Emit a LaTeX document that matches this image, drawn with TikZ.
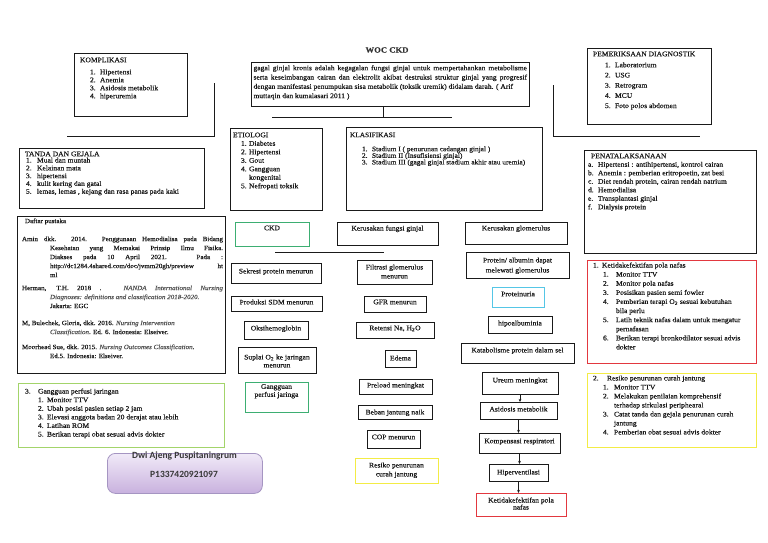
\documentclass[tikz,border=0pt]{standalone}
\usepackage{fontspec}
\setmainfont{Liberation Serif}[FakeStretch=1.08,FakeBold=0.6]
\newfontfamily\namefont{Carlito}
\usetikzlibrary{arrows.meta}
\definecolor{cgreen}{HTML}{3DAE72}
\definecolor{lgreen}{HTML}{A3D46A}
\definecolor{cyellow}{HTML}{F3EC45}
\definecolor{cred}{HTML}{E2383F}
\definecolor{ccyan}{HTML}{55C6E6}
\definecolor{pbord}{HTML}{A595C2}
\definecolor{ptop}{HTML}{F1EAF8}
\definecolor{pbot}{HTML}{C8B1DE}
\definecolor{itgray}{HTML}{555555}
\definecolor{txt}{HTML}{1A1A1A}
% centred text box content
\newcommand\ctxt[4]{\begin{minipage}[c][#2pt][t]{#1pt}\centering\fontsize{7}{8}\selectfont\vspace*{#3pt}#4\end{minipage}}
% list box content
\newcommand\ltxt[5]{\begin{minipage}[c][#2pt][t]{#1pt}\vspace*{#3pt}\hspace*{#4pt}\begin{minipage}[t]{\dimexpr#1pt-#4pt-2pt\relax}\raggedright\hyphenpenalty=10000\exhyphenpenalty=10000\fontsize{7}{8}\selectfont #5\end{minipage}\end{minipage}}
\newcommand\litem[3]{\par\noindent\hangindent=#2pt\hangafter=1\hbox to #2pt{\hskip#1pt#3\hfil}\ignorespaces}
\newcommand\itg[1]{\textcolor{itgray}{\textit{#1}}}
\tikzset{
  bx/.style={draw=txt, line width=0.9pt, anchor=north west, inner sep=0pt, outer sep=0pt, text=txt},
  ln/.style={draw=txt, line width=0.9pt},
  arr/.style={draw=txt, line width=0.8pt, -{Stealth[length=3.2pt,width=2.8pt]}},
  namebox/.style={draw=pbord, line width=0.8pt, rounded corners=8pt, top color=ptop, bottom color=pbot, anchor=north west, inner sep=0pt, minimum width=155pt, minimum height=40pt},
  nametext/.style={font=\namefont\bfseries\fontsize{9.5}{11}\selectfont, text=black!78, inner sep=0pt}
}
\newcommand\mb[8][txt]{\node[bx,draw=#1,minimum width=#5pt,minimum height=#6pt] (#2) at (#3,#4) {\ctxt{#5}{#6}{#7}{#8}};}
\begin{document}
\begin{tikzpicture}[x=1pt,y=-1pt]
\fill[white] (0,0) rectangle (768,543);
\useasboundingbox (0,0) rectangle (768,543);

% ---------- title ----------
\node[inner sep=0pt, text=black!80, font=\bfseries\fontsize{8}{9}\selectfont] (woctitle) at (387,50) {WOC CKD};

% ---------- definition ----------
\node[bx, minimum width=278pt, minimum height=44pt] (woc) at (251,62) {\ltxt{278}{44}{3.3}{2.5}{\fontsize{7}{9.3}\selectfont\rightskip=0pt\relax
gagal ginjal kronis adalah kegagalan fungsi ginjal untuk mempertahankan metabolisme serta keseimbangan cairan dan elektrolit akibat destruksi struktur ginjal yang progresif\linebreak dengan manifestasi penumpukan sisa metabolik (toksik uremik) didalam darah. ( Arif\newline muttaqin dan kumalasari 2011 )}};

% ---------- komplikasi ----------
\node[bx, minimum width=113pt, minimum height=63pt] (komp) at (74,53) {\ltxt{113}{63}{4.6}{6}{
KOMPLIKASI\par\vspace{4pt}
\litem{10}{20}{1.}Hipertensi
\litem{10}{20}{2.}Anemia
\litem{10}{20}{3.}Asidosis metabolik
\litem{10}{20}{4.}hiperuremia}};

% ---------- tanda dan gejala ----------
\node[bx, minimum width=185pt, minimum height=60pt] (tanda) at (19,148) {\ltxt{185}{60}{3.6}{6}{\fontsize{7}{7.8}\selectfont
TANDA DAN GEJALA\par\vspace{-1.5pt}
\litem{1}{12}{1.}Mual dan muntah
\litem{1}{12}{2.}Kelainan mata
\litem{1}{12}{3.}hipertensi
\litem{1}{12}{4.}kulit kering dan gatal
\litem{1}{12}{5.}lemas, lemas , kejang dan rasa panas pada kaki}};

% ---------- daftar pustaka ----------
\node[bx, minimum width=208pt, minimum height=157pt] (pustaka) at (17,216) {\ltxt{208}{157}{2.5}{5}{\fontsize{6.5}{9}\selectfont\rightskip=0pt\relax
\hspace*{3pt}Daftar pustaka\par\vspace{9pt}
\hangindent=28pt\hangafter=1 Amin dkk. 2014. Penggunaan Hemodialisa pada Bidang\linebreak Kesehatan yang Memakai Prinsip Ilmu Fisika.\linebreak Diakses pada 10 April 2021. Pada :\linebreak http://dc1284.4shared.com/doc/jvmm20gh/preview\hfill ht\newline ml\par\vspace{4pt}
\hangindent=28pt\hangafter=1 Herman, T.H. 2018 . \itg{NANDA International Nursing}\linebreak \itg{Diagnoses: definitions and classification 2018-2020.}\newline Jakarta: EGC\par\vspace{8pt}
\hangindent=28pt\hangafter=1 M, Bulechek, Gloria, dkk. 2016. \itg{Nursing Intervention}\newline \itg{Classification}. Ed. 6. Indonesia: Elseiver.\par\vspace{6pt}
\hangindent=28pt\hangafter=1 Moorhead Sue, dkk. 2015. \itg{Nursing Outcomes Classification}.\newline Ed.5. Indonesia: Elseiver.}};

% ---------- gangguan perfusi (list) ----------
\node[bx, draw=lgreen, minimum width=206pt, minimum height=64pt] (grlist) at (18,383) {\ltxt{206}{64}{5.6}{7}{\fontsize{7}{8.6}\selectfont
\litem{0}{13}{3.}Gangguan perfusi jaringan
\litem{13}{22}{1.}Monitor TTV
\litem{13}{22}{2.}Ubah posisi pasien setiap 2 jam
\litem{13}{22}{3.}Elevasi anggota badan 20 derajat atau lebih
\litem{13}{22}{4.}Latihan ROM
\litem{13}{22}{5.}Berikan terapi obat sesuai advis dokter}};

% ---------- name ----------
\node[namebox] (namebox) at (107,453) {};
\node[nametext] (name1) at (184.5,456) {Dwi Ajeng Puspitaningrum};
\node[nametext] (name2) at (184,474) {P1337420921097};

% ---------- etiologi ----------
\node[bx, minimum width=92pt, minimum height=82pt] (etio) at (230,128) {\ltxt{92}{82}{4.6}{3}{\fontsize{7}{8.5}\selectfont
ETIOLOGI
\litem{8}{16}{1.}Diabetes
\litem{8}{16}{2.}Hipertensi
\litem{8}{16}{3.}Gout
\litem{8}{16}{4.}Gangguan\newline kongenital
\litem{8}{16}{5.}Nefropati toksik}};

% ---------- klasifikasi ----------
\node[bx, minimum width=196pt, minimum height=83pt] (klas) at (346,127) {\ltxt{196}{83}{5.6}{4}{\fontsize{6.8}{6.6}\selectfont
KLASIFIKASI\par\vspace{7.5pt}
\litem{12}{22}{1.}Stadium I ( penurunan cadangan ginjal )
\litem{12}{22}{2.}Stadium II (Insufisiensi ginjal)
\litem{12}{22}{3.}Stadium III (gagal ginjal stadium akhir atau uremia)}};

% ---------- pemeriksaan ----------
\node[bx, minimum width=124pt, minimum height=76pt] (periksa) at (587,48) {\ltxt{124}{76}{3.6}{6}{\fontsize{7}{10.2}\selectfont
\mbox{PEMERIKSAAN DIAGNOSTIK}\par\vspace{0.8pt}
\litem{12}{22}{1.}Laboratorium
\litem{12}{22}{2.}USG
\litem{12}{22}{3.}Retrogram
\litem{12}{22}{4.}MCU
\litem{12}{22}{5.}Foto polos abdomen}};

% ---------- penatalaksanaan ----------
\node[bx, minimum width=172pt, minimum height=103pt] (tatalaksana) at (584,150) {\ltxt{172}{103}{3.6}{4}{\fontsize{7}{8.5}\selectfont
\hspace*{3pt}PENATALAKSANAAN
\litem{0}{10}{a.}Hipertensi : antihipertensi, kontrol cairan
\litem{0}{10}{b.}Anemia : pemberian eritropoetin, zat besi
\litem{0}{10}{c.}Diet rendah protein, cairan rendah natrium
\litem{0}{10}{d.}Hemodialisa
\litem{0}{10}{e.}Transplantasi ginjal
\litem{0}{10}{f.}Dialysis protein}};

% ---------- intervensi 1 ----------
\node[bx, draw=cred, minimum width=169pt, minimum height=103pt] (redlist) at (587,260) {\ltxt{169}{103}{2.6}{6}{\fontsize{7}{9.1}\selectfont
\litem{0}{9}{1.}Ketidakefektifan pola nafas
\litem{10}{23}{1.}Monitor TTV
\litem{10}{23}{2.}Monitor pola nafas
\litem{10}{23}{3.}Posisikan pasien semi fowler
\litem{10}{23}{4.}Pemberian terapi O\textsubscript{2} sesuai kebutuhan\newline bila perlu
\litem{10}{23}{5.}Latih teknik nafas dalam untuk mengatur\newline pernafasan
\litem{10}{23}{6.}Berikan terapi bronkodilator sesuai advis\newline dokter}};

% ---------- intervensi 2 ----------
\node[bx, draw=cyellow, minimum width=169pt, minimum height=74pt] (yellist) at (587,373) {\ltxt{169}{74}{2.6}{6}{\fontsize{7}{9}\selectfont
\litem{0}{14}{2.}Resiko penurunan curah jantung
\litem{10}{21}{1.}Monitor TTV
\litem{10}{21}{2.}Melakukan penilaian komprehensif\newline terhadap sirkulasi periphearal
\litem{10}{21}{3.}Catat tanda dan gejala penurunan curah\newline jantung
\litem{10}{21}{4.}Pemberian obat sesuai advis dokter}};

% ---------- pathway boxes ----------
\mb[cgreen]{ckd}{235}{222}{74}{24}{3.6}{CKD}
\mb{kfg}{337}{222}{101}{23}{3.6}{Kerusakan fungsi ginjal}
\mb{kglo}{465}{222}{102}{22}{3.6}{Kerusakan glomerulus}
\mb{sekresi}{231}{263}{90}{20}{5.6}{Sekresi protein menurun}
\mb{filtrasi}{357}{260}{75}{24}{4.6}{Filtrasi glomerulus\\[1pt]menurun}
\mb{protalb}{466}{252}{103}{26}{5.6}{Protein/ albumin dapat\\[2pt]melewati glomerulus}
\mb{sdm}{231}{296}{91}{15}{3.6}{Produksi SDM menurun}
\mb{gfr}{364}{296}{62}{16}{3.6}{GFR menurun}
\mb[ccyan]{proteinuria}{492}{287}{52}{20}{4.6}{Proteinuria}
\mb{oksi}{244}{321}{64}{18}{4.6}{Oksihemoglobin}
\mb{retensi}{356}{322}{78}{16}{3.6}{Retensi Na, H\textsubscript{2}O}
\mb{hipoalb}{488}{316}{64}{17}{4.6}{hipoalbuminia}
\mb{suplai}{238}{347}{78}{26}{7.6}{Suplai O\textsubscript{2} ke jaringan\\menurun}
\mb{edema}{385}{350}{31}{17}{5.6}{Edema}
\mb{katabol}{461}{343}{113}{20}{4.6}{Katabolisme protein dalam sel}
\mb[cgreen]{gperf}{245}{382}{63}{30}{2.2}{Gangguan\\perfusi jaringa}
\mb{preload}{359}{379}{73}{15}{3.6}{Preload meningkat}
\mb{beban}{358}{405}{74}{14}{4.6}{Beban jantung naik}
\mb{cop}{367}{430}{53}{18}{4.6}{COP menurun}
\mb[cyellow]{rpcj}{355}{458}{83}{25}{4.6}{Resiko penurunan\\[1pt]curah jantung}
\mb{ureum}{482}{372}{76}{22}{5.6}{Ureum meningkat}
\mb{asidosis}{480}{402}{77}{17}{4.6}{Asidosis metabolik}
\mb{kompres}{479}{433}{81}{20}{5.6}{Kompensasi respiratori}
\mb{hiperv}{489}{464}{59}{17}{5.6}{Hiperventilasi}
\mb[cred]{kpn}{476}{493}{90}{23}{4.6}{Ketidakefektifan pola\\[-1pt]nafas}

% ---------- free lines ----------
\coordinate (k1) at (214,83);
\coordinate (k2) at (214,136);
\coordinate (k3) at (67,136);
\draw[ln] (k1) -- (k2) -- (k3);
\coordinate (w1) at (383,106);
\coordinate (w2) at (383,117);
\coordinate (w3) at (272,117);
\coordinate (w4) at (452,117);
\draw[ln] (w1) -- (w2);
\draw[ln] (w3) -- (w4);
\coordinate (r1) at (553,85);
\coordinate (r2) at (553,136);
\coordinate (r3) at (700,136);
\draw[ln] (r1) -- (r2) -- (r3);
\coordinate (c1) at (275,252);
\coordinate (c2) at (384,252);
\draw[ln] (c1) -- (c2);

% ---------- arrows ----------
\draw[arr] (ureum.south) -- (ureum.south |- asidosis.north);
\draw[arr] (asidosis.south) -- (asidosis.south |- kompres.north);
\draw[arr] (kompres.south) -- (kompres.south |- hiperv.north);
\draw[arr] (hiperv.south) -- (hiperv.south |- kpn.north);
\end{tikzpicture}
\end{document}
